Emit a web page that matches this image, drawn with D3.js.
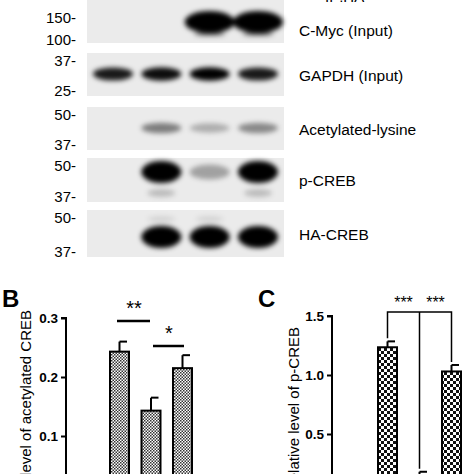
<!DOCTYPE html><html><head><script src="https://d3js.org/d3.v7.min.js"></script>
<style>body{margin:0;background:#fff}text{font-family:Arial,"Liberation Sans",sans-serif}</style></head><body>
<script>
const blotLabels=["C-Myc (Input)","GAPDH (Input)","Acetylated-lysine","p-CREB","HA-CREB"];
const blotMarkers=[["150-","100-"],["37-","25-"],["50-","37-"],["50-","37-"],["50-","37-"]];
// band intensity per lane (0-1)
const blotBands=[[0,0,1,1],[0.85,0.9,0.95,0.85],[0,0.45,0.25,0.4],[0,1,0.3,1],[0,1,1,1]];
const groupsB=["1","2","3"], valuesB=[0.243,0.143,0.215], errB=[0.017,0.022,0.022];
const groupsC=["1","2","3"], valuesC=[1.235,0.15,1.03], errC=[0.05,0.03,0.055];
const ticksB=[0.1,0.2,0.3], ticksC=[0.5,1.0,1.5];

const svg=d3.select("body").append("svg").attr("width",474).attr("height",474);
const defs=svg.append("defs");
defs.append("filter").attr("id","blur").attr("x","-50%").attr("y","-100%").attr("width","200%").attr("height","300%")
 .append("feGaussianBlur").attr("stdDeviation",2.5);
const pB=defs.append("pattern").attr("id","pb").attr("width",3).attr("height",3).attr("patternUnits","userSpaceOnUse");
pB.append("rect").attr("width",3).attr("height",3).attr("fill","#fff");
pB.append("rect").attr("width",1.5).attr("height",1.5).attr("fill","#333");
pB.append("rect").attr("x",1.5).attr("y",1.5).attr("width",1.5).attr("height",1.5).attr("fill","#333");
const pC=defs.append("pattern").attr("id","pc").attr("width",6).attr("height",6).attr("patternUnits","userSpaceOnUse");
pC.append("rect").attr("width",6).attr("height",6).attr("fill","#fff");
pC.append("rect").attr("width",3).attr("height",3).attr("fill","#111");
pC.append("rect").attr("x",3).attr("y",3).attr("width",3).attr("height",3).attr("fill","#111");

// blots
const panels=[[0,43],[53,96],[107,150],[158,202],[210,257]];
const lane=d3.scalePoint().domain([0,1,2,3]).range([113,258]);
svg.append("text").attr("x",325).attr("y",2).attr("font-size",15).text("IP:HA");
panels.forEach(([y0,y1],i)=>{
  svg.append("rect").attr("x",87).attr("y",y0).attr("width",197).attr("height",y1-y0).attr("fill","#ebebeb");
  const g=svg.append("g").attr("filter","url(#blur)");
  const cy = i==0?22: i==1?74: i==2?128: i==3?172: 237;
  blotBands[i].forEach((v,j)=>{ if(v<=0)return;
    g.append("ellipse").attr("cx",lane(j)).attr("cy",cy).attr("rx",i==0?25:20).attr("ry",(i==1||i==2)?4+3*v:6+5*v)
     .attr("fill","#000").attr("opacity",Math.min(1,v*1.05));
    if(i==0) g.append("ellipse").attr("cx",lane(j)).attr("cy",34).attr("rx",16).attr("ry",2).attr("fill","#000").attr("opacity",0.5);
    if(i==3 && v>0.5) g.append("ellipse").attr("cx",lane(j)).attr("cy",193).attr("rx",14).attr("ry",4).attr("fill","#000").attr("opacity",0.2);
    if(i==4 && (j==1||j==2)) g.append("ellipse").attr("cx",lane(j)).attr("cy",219).attr("rx",14).attr("ry",3).attr("fill","#000").attr("opacity",0.1);
  });
  svg.append("text").attr("x",76).attr("y",y0+(i==0?23:13)).attr("text-anchor","end").attr("font-size",15).text(blotMarkers[i][0]);
  svg.append("text").attr("x",76).attr("y",y1+(i==0?2:0)).attr("text-anchor","end").attr("font-size",15).text(blotMarkers[i][1]);
  svg.append("text").attr("x",299).attr("y",(y0+y1)/2+(i==0?14:6)).attr("font-size",15.5).text(blotLabels[i]);
});

function chart(xAxis,letterX,groups,vals,errs,ticks,yMax,y0px,x0,bw,step,fill,label,fmt){
  const y=d3.scaleLinear().domain([0,yMax]).range([y0px,y0px-yMax*(59/ticks[0])]);
  const x=d3.scaleBand().domain(groups).range([x0,x0+step*(groups.length-1)+bw]).paddingInner(1-bw/step).paddingOuter(0);
  svg.append("text").attr("x",letterX).attr("y",307).attr("font-size",24).attr("font-weight","bold").text(letterX<100?"B":"C");
  const ax=svg.append("g").attr("transform",`translate(${xAxis},0)`).call(d3.axisLeft(y).tickValues(ticks).tickFormat(d3.format(fmt)).tickSize(5));
  ax.select(".domain").attr("stroke-width",2).attr("d",`M-5,${y(ticks[2])}H0V${y0px+5}`);
  ax.selectAll("line").attr("stroke-width",2);
  ax.selectAll("text").attr("font-size",13.5).attr("font-weight","bold").attr("font-family","Arial");
  groups.forEach((k,i)=>{
    const cx=x(k)+x.bandwidth()/2;
    svg.append("line").attr("x1",cx).attr("x2",cx).attr("y1",y(vals[i])).attr("y2",y(vals[i]+errs[i])).attr("stroke","#000").attr("stroke-width",2);
    svg.append("line").attr("x1",cx).attr("x2",cx+x.bandwidth()/2-2).attr("y1",y(vals[i]+errs[i])).attr("y2",y(vals[i]+errs[i])).attr("stroke","#000").attr("stroke-width",2);
    svg.append("rect").attr("x",x(k)).attr("y",y(vals[i])).attr("width",x.bandwidth()).attr("height",y0px-y(vals[i])).attr("fill",fill).attr("stroke","#000").attr("stroke-width",2);
  });
  svg.append("text").attr("transform",`translate(${label[1]},${label[2]}) rotate(-90)`).attr("text-anchor","end").attr("font-size",15).text(label[0]);
  return {x,y};
}
const B=chart(66,2,groupsB,valuesB,errB,ticksB,0.3,495,110,19,31.5,"url(#pb)",["Relative level of acetylated CREB",31,310],".1f");
const C=chart(332,258,groupsC,valuesC,errC,ticksC,1.5,493,378,19,32,"url(#pc)",["Relative level of p-CREB",299,327],".1f");
// significance B
svg.append("line").attr("x1",117).attr("x2",150).attr("y1",321).attr("y2",321).attr("stroke","#000").attr("stroke-width",2.5);
svg.append("text").attr("x",134).attr("y",315).attr("text-anchor","middle").attr("font-size",20).text("**");
svg.append("line").attr("x1",153).attr("x2",184).attr("y1",346).attr("y2",346).attr("stroke","#000").attr("stroke-width",2.5);
svg.append("text").attr("x",169).attr("y",340).attr("text-anchor","middle").attr("font-size",20).text("*");
// bracket C
const cx=k=>C.x(k)+C.x.bandwidth()/2;
const topY=312;
svg.append("path").attr("fill","none").attr("stroke","#000").attr("stroke-width",1.5)
 .attr("d",`M${cx("1")},${C.y(valuesC[0]+errC[0])-3}V${topY}H${cx("3")}V${C.y(valuesC[2]+errC[2])-3}M${cx("2")},${topY}V${C.y(valuesC[1]+errC[1])-3}`);
svg.append("text").attr("x",(cx("1")+cx("2"))/2).attr("y",308).attr("text-anchor","middle").attr("font-size",16).text("***");
svg.append("text").attr("x",(cx("2")+cx("3"))/2).attr("y",308).attr("text-anchor","middle").attr("font-size",16).text("***");
</script></body></html>
